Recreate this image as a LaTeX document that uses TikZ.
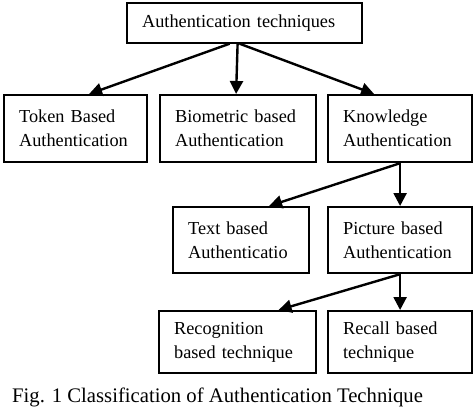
\documentclass[tikz,border=0pt]{standalone}
\usepackage{fontspec}
\setmainfont{Liberation Serif}
\usetikzlibrary{arrows.meta}
\begin{document}
\begin{tikzpicture}[x=1pt,y=-1pt,
  box/.style={draw=black,line width=2.2pt,anchor=north west,align=left,
    inner xsep=15pt,inner ysep=0pt,
    font=\fontsize{18.3pt}{24pt}\selectfont},
  arr/.style={line width=2.4pt,-{Triangle[length=13pt,width=13pt]}}]
\useasboundingbox (0,0) rectangle (474,408);
\node[box,text width=205pt,minimum height=40pt] (top) at (126,1.5) {Authentication techniques};
\node[box,text width=113pt,minimum height=67pt] (token) at (3,94) {Token Based\\Authentication};
\node[box,text width=126pt,minimum height=67pt] (bio) at (159,94) {Biometric based\\Authentication};
\node[box,text width=114pt,minimum height=67pt] (know) at (327,94) {Knowledge\\Authentication};
\node[box,text width=106pt,minimum height=66pt] (text) at (172,206) {Text based\\Authenticatio};
\node[box,text width=114pt,minimum height=66pt] (pict) at (327,206) {Picture based\\Authentication};
\node[box,text width=127pt,minimum height=62pt] (recog) at (158,310) {Recognition\\based technique};
\node[box,text width=114pt,minimum height=62pt] (recall) at (327,310) {Recall based\\technique};
\node[anchor=base west,inner sep=0pt,font=\fontsize{20.7pt}{24pt}\selectfont] (cap) at (12,402) {Fig. 1 Classification of Authentication Technique};
\draw[arr] ([xshift=-15pt]top.south) -- ([xshift=13.5pt]token.north);
\draw[arr] ([xshift=-7pt]top.south) -- ([xshift=-2pt]bio.north);
\draw[arr] ([xshift=-5pt]top.south) -- ([xshift=-26pt]know.north);
\draw[arr] (know.south) -- ([xshift=28pt]text.north);
\draw[arr] (know.south) -- (pict.north);
\draw[arr] (pict.south) -- ([xshift=41pt]recog.north);
\draw[arr] (pict.south) -- (recall.north);
\end{tikzpicture}
\end{document}
